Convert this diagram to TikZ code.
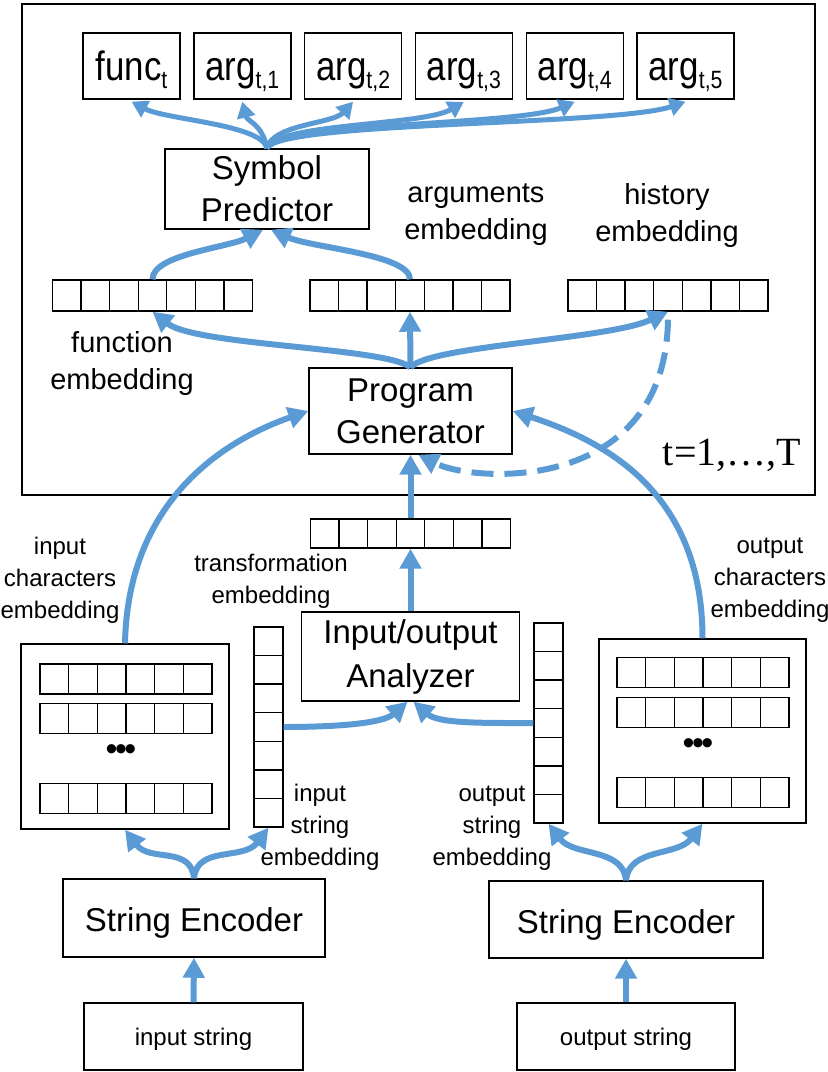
\documentclass[tikz,border=0pt]{standalone}
\usepackage{fontspec}
\setmainfont{Liberation Sans}
\newfontfamily\tmsfont{Liberation Serif}
\newfontfamily\narrowfont[FakeStretch=0.85]{Liberation Sans}
\usetikzlibrary{arrows.meta,calc}
\definecolor{ablue}{RGB}{91,155,213}
\newcommand{\boxfont}{\fontsize{33}{42}\selectfont}
\newcommand{\anafont}{\fontsize{33}{44}\selectfont}
\newcommand{\medfont}{\fontsize{29}{37}\selectfont}
\newcommand{\smlfont}{\fontsize{24}{32}\selectfont}
\newcommand{\topfont}{\narrowfont\fontsize{41}{41}\selectfont}
\newcommand{\sbs}[1]{\raisebox{-8pt}{\narrowfont\fontsize{25}{25}\selectfont #1}}
\tikzset{
  nbox/.style={draw, line width=1.4pt, inner sep=0pt, align=center},
  lbl/.style={inner sep=0pt, align=center},
  hdiv/.style={path picture={\pgfmathtruncatemacro\ncells{#1-1}\foreach \k in {1,...,\ncells}{\draw[line width=1.4pt] ($(path picture bounding box.south west)!{\k/#1}!(path picture bounding box.south east)$) -- ($(path picture bounding box.north west)!{\k/#1}!(path picture bounding box.north east)$);}}},
  vdiv/.style={path picture={\pgfmathtruncatemacro\ncells{#1-1}\foreach \k in {1,...,\ncells}{\draw[line width=1.4pt] ($(path picture bounding box.south west)!{\k/#1}!(path picture bounding box.north west)$) -- ($(path picture bounding box.south east)!{\k/#1}!(path picture bounding box.north east)$);}}},
  hv7/.style={draw, line width=1.4pt, inner sep=0pt, minimum width=200pt, minimum height=31pt, hdiv=7},
  hv6/.style={draw, line width=1.4pt, inner sep=0pt, minimum width=172pt, minimum height=30pt, hdiv=6},
  vv7/.style={draw, line width=1.4pt, inner sep=0pt, minimum width=29pt, minimum height=200pt, vdiv=7},
  topbox/.style={nbox, minimum width=97pt, minimum height=66pt, text height=28pt, text depth=0pt},
  arr/.style={draw=ablue, line width=6pt, -{Triangle[width=21pt,length=20pt]}},
  arrs/.style={draw=ablue, line width=5pt, -{Triangle[width=18pt,length=16pt]}},
}
\begin{document}
\begin{tikzpicture}[x=1pt,y=-1pt]
\useasboundingbox (0,0) rectangle (828,1072);
% outer frame
\draw[line width=1.4pt] (22,4) rectangle (815,495);

% top outputs
\node[topbox] (f0) at (131.5,66) {\topfont func\sbs{t}};
\node[topbox] (a1) at (242.3,66) {\topfont arg\sbs{t,1}};
\node[topbox] (a2) at (353.1,66) {\topfont arg\sbs{t,2}};
\node[topbox] (a3) at (463.9,66) {\topfont arg\sbs{t,3}};
\node[topbox] (a4) at (574.7,66) {\topfont arg\sbs{t,4}};
\node[topbox] (a5) at (685.5,66) {\topfont arg\sbs{t,5}};

% symbol predictor
\node[nbox, font=\boxfont, minimum width=204pt, minimum height=80pt] (sp) at (267,189) {Symbol\\Predictor};
\node[lbl, font=\medfont] (argl) at (476,214.5) {arguments\\embedding};
\node[lbl, font=\medfont] (hisl) at (667,215.5) {history\\embedding};

% embedding vectors
\node[hv7] (fvec) at (152.5,295.5) {};
\node[hv7] (mvec) at (410,295.5) {};
\node[hv7] (hvec) at (668,295.5) {};
\node[lbl, font=\medfont] (funl) at (122,363.5) {function\\embedding};

% program generator
\node[nbox, font=\boxfont, minimum width=203pt, minimum height=86pt] (pg) at (410.5,411) {Program\\Generator};
\node[lbl, font=\tmsfont\fontsize{40}{40}\selectfont, anchor=base] (tl) at (732,465) {t=1,…,T};

% transformation vector and analyzer
\node[hv7, minimum height=29pt] (tvec) at (410.5,533.5) {};
\node[lbl, font=\smlfont] (trl) at (271,581) {transformation\\embedding};
\node[nbox, font=\anafont, minimum width=218pt, minimum height=89pt] (ana) at (410.5,656.5) {Input/output\\Analyzer};

% character boxes
\node[draw, line width=1.4pt, minimum width=208pt, minimum height=185pt, inner sep=0pt] (lcb) at (125,736.5) {};
\node[hv6] (lr1) at (126,679) {};
\node[hv6] (lr2) at (126,718.5) {};
\node[hv6] (lr3) at (126,798.5) {};
\node[lbl, font=\fontsize{34}{34}\selectfont] (ldots) at (121,753) {•\kern-2.5pt•\kern-2.5pt•};
\node[draw, line width=1.4pt, minimum width=207pt, minimum height=184pt, inner sep=0pt] (rcb) at (702.5,731) {};
\node[hv6] (rr1) at (703,672.5) {};
\node[hv6] (rr2) at (703,712.5) {};
\node[hv6] (rr3) at (703,792.5) {};
\node[lbl, font=\fontsize{34}{34}\selectfont] (rdots) at (698,747) {•\kern-2.5pt•\kern-2.5pt•};
\node[lbl, font=\smlfont] (icl) at (60,580) {input\\characters\\embedding};
\node[lbl, font=\smlfont] (ocl) at (770,580.5) {output\\characters\\embedding};

% string embedding vectors
\node[vv7] (ivec) at (268.5,727) {};
\node[vv7] (ovec) at (548.5,723) {};
\node[lbl, font=\smlfont] (isl) at (320,827.5) {input\\string\\embedding};
\node[lbl, font=\smlfont] (osl) at (492,828) {output\\string\\embedding};

% encoders and inputs
\node[nbox, font=\fontsize{33}{40}\selectfont, minimum width=262pt, minimum height=78pt, text height=27pt, text depth=0pt] (se1) at (194,918) {String Encoder};
\node[nbox, font=\fontsize{33}{40}\selectfont, minimum width=274pt, minimum height=77pt, text height=27pt, text depth=0pt] (se2) at (626,919.5) {String Encoder};
\node[nbox, font=\smlfont, minimum width=219pt, minimum height=67pt, text height=17pt, text depth=0pt] (is) at (193.5,1036.5) {input string};
\node[nbox, font=\smlfont, minimum width=218pt, minimum height=67pt, text height=17pt, text depth=0pt] (os) at (626,1036.5) {output string};

% ---- connectors ----
% symbol predictor fan
\draw[arrs] (sp.north) .. controls +(-5,-24) and +(34,18) .. ([yshift=-2pt]f0.south);
\draw[arrs] (sp.north) .. controls +(-5,-25) and +(5,20) .. ([yshift=-2pt]a1.south);
\draw[arrs] (sp.north) .. controls +(5,-24) and +(-20,22) .. ([yshift=-2pt]a2.south);
\draw[arrs] (sp.north) .. controls +(8,-25) and +(-40,24) .. ([yshift=-2pt]a3.south);
\draw[arrs] (sp.north) .. controls +(10,-26) and +(-55,24) .. ([yshift=-2pt]a4.south);
\draw[arrs] (sp.north) .. controls +(12,-27) and +(-70,24) .. ([yshift=-2pt]a5.south);
% into symbol predictor
\draw[arr] (fvec.north) .. controls +(0,-25) and +(-35,18) .. ([xshift=-4pt]sp.south);
\draw[arr] (mvec.north) .. controls +(0,-25) and +(40,18) .. ([xshift=4pt]sp.south);
% program generator fan
\draw[arr] (pg.north) .. controls +(-25,-20) and +(43,34) .. (fvec.south);
\draw[arr] (pg.north) -- (mvec.south);
\draw[arr] (pg.north) .. controls +(20,-22) and +(-60,28) .. (hvec.south);
\draw[arr, dash pattern=on 22pt off 11pt] ([yshift=-8pt]hvec.south) .. controls +(-3,175) and +(55,28) .. ([xshift=8pt]pg.south);
% into program generator
\draw[arr] (lcb.north) .. controls +(3,-144) and +(-83,29) .. (pg.west);
\draw[arr] (rcb.north) .. controls +(0,-149) and +(88,29) .. (pg.east);
\draw[arr] (tvec.north) -- (pg.south);
\draw[arr] (ana.north) -- (tvec.south);
% into analyzer
\draw[arr] (ivec.east) .. controls +(50,0) and +(-25,22) .. ([xshift=-3pt]ana.south);
\draw[arr] (ovec.west) .. controls +(-50,0) and +(25,22) .. ([xshift=3pt]ana.south);
% encoders
\draw[arr] (is.north) -- (se1.south);
\draw[arr] (os.north) -- (se2.south);
\draw[arr] (se1.north) .. controls +(-3,-33) and +(25,33) .. (lcb.south);
\draw[arr] (se1.north) .. controls +(3,-33) and +(-25,33) .. (ivec.south);
\draw[arr] (se2.north) .. controls +(-3,-33) and +(25,33) .. (ovec.south);
\draw[arr] (se2.north) .. controls +(3,-33) and +(-25,33) .. (rcb.south);
\end{tikzpicture}
\end{document}
